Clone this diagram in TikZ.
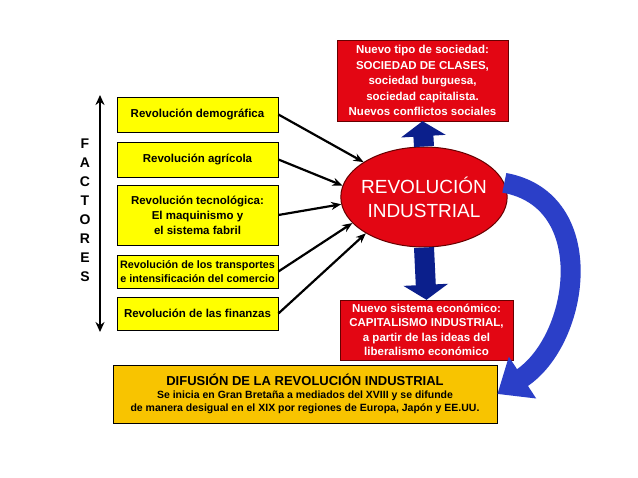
\documentclass[tikz,border=0pt]{standalone}
\usepackage{fontspec}
\setmainfont{Liberation Sans}
\usetikzlibrary{arrows.meta,shapes.geometric}
\definecolor{rd}{HTML}{E30613}
\definecolor{yl}{HTML}{FFFF00}
\definecolor{or}{HTML}{F8C400}
\definecolor{db}{HTML}{0B1F8C}
\definecolor{lb}{HTML}{2B3FC8}
\tikzset{
 ybox/.style={draw=black,fill=yl,line width=0.8pt,minimum width=161pt,align=center,font=\bfseries\fontsize{11.5}{14}\selectfont,inner sep=1pt},
 rbox/.style={draw=black!60!red,fill=rd,text=white,align=center,font=\bfseries\fontsize{11.5}{15.5}\selectfont,inner sep=1pt},
 farr/.style={-{Stealth[length=10pt,width=8pt]},line width=2.2pt},
 bigarr/.style={db,line width=20pt,-{Triangle[length=15pt,width=44pt]}}
}
\begin{document}
\begin{tikzpicture}[x=1pt,y=-1pt]
\useasboundingbox[fill=white] (0,0) rectangle (638,478);
\node[rbox,minimum width=171pt,minimum height=81pt] (soc) at (422.5,80.5) {Nuevo tipo de sociedad:\\SOCIEDAD DE CLASES,\\sociedad burguesa,\\sociedad capitalista.\\Nuevos conflictos sociales};
\node[rbox,minimum width=173pt,minimum height=60pt,font=\bfseries\fontsize{11.5}{14.5}\selectfont] (eco) at (426.5,330) {Nuevo sistema económico:\\CAPITALISMO INDUSTRIAL,\\a partir de las ideas del\\liberalismo económico};
\node[ellipse,draw=black!60!red,line width=1pt,fill=rd,minimum width=166pt,minimum height=100pt,text=white,align=center,font=\fontsize{19}{24}\selectfont,inner sep=-4pt] (ri) at (424,197) {REVOLUCIÓN\\INDUSTRIAL};
\node[ybox,minimum height=35pt] (b1) at (197.5,114.5) {Revolución demográfica};
\node[ybox,minimum height=35pt] (b2) at (197.5,159.5) {Revolución agrícola};
\node[ybox,minimum height=60pt,font=\bfseries\fontsize{11.5}{15}\selectfont] (b3) at (197.5,215) {Revolución tecnológica:\\El maquinismo y\\el sistema fabril};
\node[ybox,minimum height=33pt,font=\bfseries\fontsize{10.8}{13.5}\selectfont] (b4) at (197.5,271.5) {Revolución de los transportes\\e intensificación del comercio};
\node[ybox,minimum height=33pt] (b5) at (197.5,313.5) {Revolución de las finanzas};
\node[draw=black,fill=or,line width=0.8pt,minimum width=384pt,minimum height=58pt,align=center,inner sep=1pt,font=\bfseries\fontsize{10.5}{13}\selectfont] (dif) at (305,394) {{\fontsize{13}{16}\selectfont DIFUSIÓN DE LA REVOLUCIÓN INDUSTRIAL}\\Se inicia en Gran Bretaña a mediados del XVIII y se difunde\\de manera desigual en el XIX por regiones de Europa, Japón y EE.UU.};
\node[align=center,font=\bfseries\fontsize{14}{19}\selectfont] (fac) at (85,210) {F\\A\\C\\T\\O\\R\\E\\S};
\coordinate (vt) at (100,95);
\coordinate (vb) at (100,332);
\draw[{Stealth[length=10pt,width=9pt]}-{Stealth[length=10pt,width=9pt]},line width=2.4pt] (vt) -- (vb);
\draw[farr] (b1.east) -- (ri.150);
\draw[farr] (b2.east) -- (ri.172);
\draw[farr] (b3.east) -- (ri.185);
\draw[farr] (b4.east) -- (ri.200);
\draw[farr] (b5.east) -- (ri.212);
\draw[bigarr] (ri.north) -- (soc.south);
\draw[bigarr] (ri.south) -- (eco.north);
\draw[lb,line width=20pt,-{Triangle[length=30pt,width=48pt]}] (ri.10) .. controls (600,200) and (580,340) .. (dif.east);
\end{tikzpicture}
\end{document}
